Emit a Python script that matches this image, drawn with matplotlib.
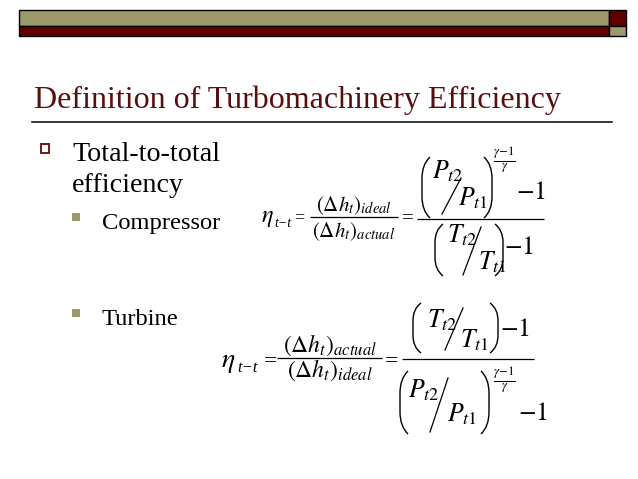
import matplotlib.pyplot as plt
from matplotlib.path import Path
from matplotlib.patches import PathPatch, Rectangle

plt.rcParams['mathtext.fontset'] = 'stix'
plt.rcParams['font.family'] = ['Liberation Serif', 'DejaVu Serif']

# slide texts
title = "Definition of Turbomachinery Efficiency"
bullet_main = ["Total-to-total", "efficiency"]
bullet_subs = ["Compressor", "Turbine"]

OLIVE = "#9c9a6b"
MAROON = "#600000"
TITLE_RED = "#5a0f0f"

fig = plt.figure(figsize=(6.38, 4.79), dpi=100)
ax = fig.add_axes([0, 0, 1, 1])
ax.set_xlim(0, 638)
ax.set_ylim(479, 0)
ax.axis('off')


def pt(px):
    return px * 0.72


def paren(x, y0, y1, side, w=8):
    # thin tall bracket: curved ends, straight middle
    h = y1 - y0
    if side == 'left':
        xo, xi = x + w, x
    else:
        xo, xi = x, x + w
    verts = [(xo, y0), (xi, y0 + h * 0.12), (xi, y0 + h * 0.35),
             (xi, y1 - h * 0.35),
             (xi, y1 - h * 0.12), (xo, y1)]
    codes = [Path.MOVETO, Path.CURVE3, Path.CURVE3, Path.LINETO,
             Path.CURVE3, Path.CURVE3]
    ax.add_patch(PathPatch(Path(verts, codes), fill=False, lw=1.0, color='black'))


def hline(x0, x1, y):
    ax.plot([x0, x1], [y, y], color='black', lw=0.9, solid_capstyle='butt')


def slash(x0, y0, x1, y1):
    ax.plot([x0, x1], [y0, y1], color='black', lw=0.9)


def m(x, y, s, size, ha='left', va='baseline'):
    ax.text(x, y, s, fontsize=size, ha=ha, va=va, color='black')


def eq(x, y, size=16):
    ax.text(x, y, "=", fontsize=size, ha='left', va='baseline', color='black')


def sub_tt(x, y, size):
    ax.text(x, y, "t\u2212t", fontsize=size, style='italic', ha='left',
            va='baseline', color='black')


EXPO = r'$\frac{\gamma\!-\!1}{\gamma}$'

# header bar
ax.add_patch(Rectangle((19, 10), 590, 16, facecolor=OLIVE, edgecolor='black', lw=1))
ax.add_patch(Rectangle((19, 26), 590, 10, facecolor=MAROON, edgecolor='black', lw=1))
ax.add_patch(Rectangle((609, 10), 17, 16, facecolor=MAROON, edgecolor='black', lw=1))
ax.add_patch(Rectangle((609, 26), 17, 10, facecolor=OLIVE, edgecolor='black', lw=1))

# title
ax.text(34, 108, title, fontsize=pt(32), color=TITLE_RED, va='baseline')
ax.plot([32, 612], [122, 122], color='black', lw=1.1)

# bullets
ax.add_patch(Rectangle((41, 144), 8, 9, facecolor='white', edgecolor='#6b1a1a', lw=1.4))
ax.text(72, 161, bullet_main[0], fontsize=pt(28), va='baseline')
ax.text(72, 192, bullet_main[1], fontsize=pt(28), va='baseline')
for yb, label in zip([213, 309], bullet_subs):
    ax.add_patch(Rectangle((72, yb), 8, 8, facecolor=OLIVE, edgecolor='none'))
    ax.text(102, yb + 16, label, fontsize=pt(24.5), va='baseline')

# compressor equation
big = 18.5
m(261, 222, r'$\eta$', 17.5)
sub_tt(274, 227, 10)
eq(294, 222, 13)
m(354, 211, r'$(\Delta h_t)_{ideal}$', 15, ha='center')
hline(310, 398, 217)
m(354, 237, r'$(\Delta h_t)_{actual}$', 15, ha='center')
eq(402, 223, 15)
paren(422, 157, 218, 'left')
m(432, 178, r'$P_{t2}$', big)
slash(442, 214, 461, 178)
m(458, 205, r'$P_{t1}$', big)
paren(484, 157, 218, 'right')
m(504, 160, EXPO, 13, ha='center', va='center')
m(516, 199, r'$-1$', big)
hline(417, 544, 219)
paren(435, 224, 276, 'left')
m(447, 242, r'$T_{t2}$', big)
slash(463, 275, 481, 227)
m(478, 269, r'$T_{t1}$', big)
paren(495, 224, 276, 'right')
m(504, 254, r'$-1$', big)

# turbine equation
m(221, 367, r'$\eta$', 20)
sub_tt(237, 372, 12)
eq(264, 367, 17)
m(330, 352, r'$(\Delta h_t)_{actual}$', 17, ha='center')
hline(277, 382, 358)
m(330, 377, r'$(\Delta h_t)_{ideal}$', 17, ha='center')
eq(385, 367, 17)
paren(413, 303, 353, 'left')
m(427, 327, r'$T_{t2}$', big)
slash(445, 350, 463, 308)
m(460, 347, r'$T_{t1}$', big)
paren(490, 303, 353, 'right')
m(500, 336, r'$-1$', big)
hline(402, 534, 359)
paren(400, 371, 434, 'left')
m(408, 397, r'$P_{t2}$', big)
slash(430, 432, 448, 378)
m(447, 421, r'$P_{t1}$', big)
paren(481, 371, 434, 'right')
m(504, 380, EXPO, 13, ha='center', va='center')
m(518, 420, r'$-1$', big)

fig.savefig('out.png', dpi=100)
